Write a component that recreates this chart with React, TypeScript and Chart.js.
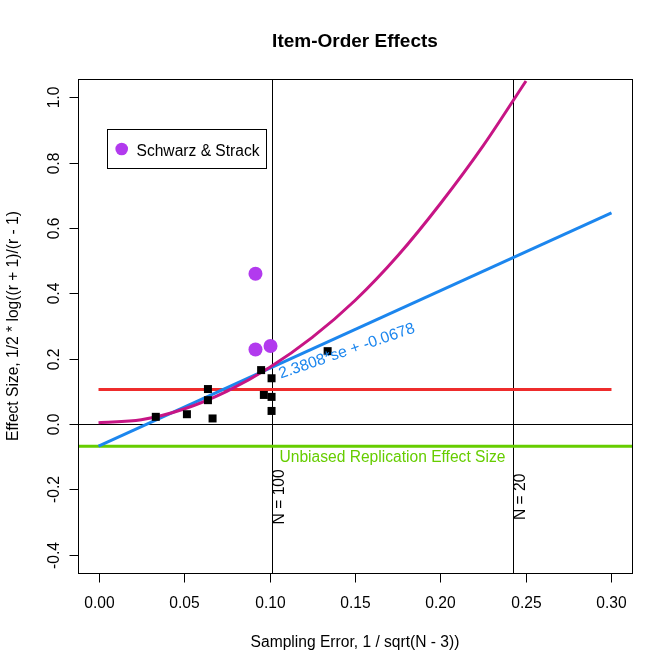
import React, { useEffect, useRef } from "react";
import { Chart, registerables } from "chart.js";

Chart.register(...registerables);

// ---- axis ranges & ticks ----
const X_MIN = -0.012;
const X_MAX = 0.312;
const Y_MIN = -0.456;
const Y_MAX = 1.056;
const xTicks = [0, 0.05, 0.1, 0.15, 0.2, 0.25, 0.3];
const xTickLabels = ["0.00", "0.05", "0.10", "0.15", "0.20", "0.25", "0.30"];
const yTicks = [-0.4, -0.2, 0, 0.2, 0.4, 0.6, 0.8, 1.0];
const yTickLabels = ["-0.4", "-0.2", "0.0", "0.2", "0.4", "0.6", "0.8", "1.0"];

// ---- replication studies (black squares) ----
const studySe = [0.0335, 0.0517, 0.064, 0.064, 0.0667, 0.0951, 0.0967, 0.1012, 0.1012, 0.1012, 0.134];
const studyEs = [0.022, 0.030, 0.107, 0.073, 0.017, 0.165, 0.089, 0.140, 0.083, 0.040, 0.223];

// ---- original studies (Schwarz & Strack) ----
const origSe = [0.0918, 0.0918, 0.1006];
const origEs = [0.460, 0.228, 0.239];

// ---- curved (magenta) fit ----
const curveSe = [0, 0.025, 0.05, 0.075, 0.1, 0.125, 0.15, 0.175, 0.2, 0.225, 0.25];
const curveEs = [0.004, 0.013, 0.046, 0.100, 0.173, 0.265, 0.378, 0.515, 0.675, 0.852, 1.050];

// ---- linear (blue) fit ----
const fitSe = [0, 0.3];
const fitEs = [-0.0678, 0.6464];
const fitLabel = "2.3808*se + -0.0678";
const fitLabelSe = 0.1015;
const fitLabelEs = 0.1739;
const fitLabelAngle = -19; // degrees

// ---- red horizontal line ----
const redSe = [0, 0.3];
const redEs = [0.106, 0.106];

// ---- reference lines ----
const unbiasedEs = -0.0678;
const zeroEs = 0;
const nLineSe = [0.1015, 0.2425];
const nLineLabels = ["N = 100", "N = 20"];
const nLabelEs = -0.223;

const FONT = '"Liberation Sans", Arial, Helvetica, sans-serif';
const TXT = `15.6px ${FONT}`;

const pts = (xs: number[], ys: number[]) => xs.map((x, i) => ({ x, y: ys[i] }));

const refLines = {
  id: "refLines",
  beforeDatasetsDraw(chart: any) {
    const ctx: CanvasRenderingContext2D = chart.ctx;
    const xs = chart.scales.x;
    const ys = chart.scales.y;
    const ca = chart.chartArea;
    ctx.save();
    ctx.strokeStyle = "#000";
    ctx.lineWidth = 1;
    const py = Math.round(ys.getPixelForValue(zeroEs)) + 0.5;
    ctx.beginPath();
    ctx.moveTo(ca.left, py);
    ctx.lineTo(ca.right, py);
    ctx.stroke();
    nLineSe.forEach((se) => {
      const px = Math.round(xs.getPixelForValue(se)) + 0.5;
      ctx.beginPath();
      ctx.moveTo(px, ca.top);
      ctx.lineTo(px, ca.bottom);
      ctx.stroke();
    });
    ctx.restore();
  },
};

const overlay = {
  id: "overlay",
  afterDraw(chart: any) {
    const ctx: CanvasRenderingContext2D = chart.ctx;
    const xs = chart.scales.x;
    const ys = chart.scales.y;
    const ca = chart.chartArea;
    const L = Math.round(ca.left), R = Math.round(ca.right), T = Math.round(ca.top), B = Math.round(ca.bottom);
    ctx.save();
    ctx.strokeStyle = "#000";
    ctx.lineWidth = 1;
    // frame
    ctx.strokeRect(L + 0.5, T + 0.5, R - L, B - T);
    // x ticks
    ctx.fillStyle = "#000";
    ctx.font = TXT;
    ctx.textAlign = "center";
    ctx.textBaseline = "alphabetic";
    xTicks.forEach((v, i) => {
      const px = Math.round(xs.getPixelForValue(v)) + 0.5;
      ctx.beginPath();
      ctx.moveTo(px, B + 0.5);
      ctx.lineTo(px, B + 9.5);
      ctx.stroke();
      ctx.fillText(xTickLabels[i], px, 608);
    });
    // y ticks
    yTicks.forEach((v, i) => {
      const py = Math.round(ys.getPixelForValue(v)) + 0.5;
      ctx.beginPath();
      ctx.moveTo(L + 0.5, py);
      ctx.lineTo(L - 8.5, py);
      ctx.stroke();
      ctx.save();
      ctx.translate(58.5, py);
      ctx.rotate(-Math.PI / 2);
      ctx.fillText(yTickLabels[i], 0, 0);
      ctx.restore();
    });
    // title
    ctx.font = `bold 19px ${FONT}`;
    ctx.fillText("Item-Order Effects", (L + R) / 2, 46.5);
    // axis titles
    ctx.font = TXT;
    ctx.fillText("Sampling Error, 1 / sqrt(N - 3))", (L + R) / 2, 647);
    ctx.save();
    ctx.translate(17.5, (T + B) / 2);
    ctx.rotate(-Math.PI / 2);
    ctx.fillText("Effect Size, 1/2 * log((r + 1)/(r - 1)", 0, 0);
    ctx.restore();

    // N labels
    nLineSe.forEach((se, i) => {
      const px = xs.getPixelForValue(se);
      const py = ys.getPixelForValue(nLabelEs);
      ctx.save();
      ctx.translate(px + 12.3, py);
      ctx.rotate(-Math.PI / 2);
      ctx.fillStyle = "#000";
      ctx.textAlign = "center";
      ctx.fillText(nLineLabels[i], 0, 0);
      ctx.restore();
    });

    // unbiased label
    ctx.fillStyle = "#66CD00";
    ctx.textAlign = "left";
    ctx.fillText(
      "Unbiased Replication Effect Size",
      xs.getPixelForValue(nLineSe[0]) + 7.4,
      ys.getPixelForValue(unbiasedEs) + 15.4
    );

    // fit label
    ctx.save();
    ctx.translate(xs.getPixelForValue(fitLabelSe) + 8.8, ys.getPixelForValue(fitLabelEs) + 11.4);
    ctx.rotate((fitLabelAngle * Math.PI) / 180);
    ctx.fillStyle = "#1C86EE";
    ctx.textAlign = "left";
    ctx.font = `15.8px ${FONT}`;
    ctx.fillText(fitLabel, 0, 0);
    ctx.restore();

    // legend
    ctx.font = TXT;
    ctx.strokeStyle = "#000";
    ctx.strokeRect(107.5, 129.5, 159, 39);
    ctx.fillStyle = "#B23AEE";
    ctx.beginPath();
    ctx.arc(121.7, 149, 6.3, 0, Math.PI * 2);
    ctx.fill();
    ctx.fillStyle = "#000";
    ctx.textAlign = "left";
    ctx.fillText("Schwarz & Strack", 136.5, 156);
    ctx.restore();
  },
};

export default function App() {
  const ref = useRef<HTMLCanvasElement>(null);
  useEffect(() => {
    const line = (data: any[], color: string, width: number, extra: any = {}) => ({
      type: "scatter",
      data,
      showLine: true,
      borderColor: color,
      backgroundColor: color,
      borderWidth: width,
      pointRadius: 0,
      fill: false,
      tension: 0,
      clip: 0,
      ...extra,
    });
    const chart = new Chart(ref.current as HTMLCanvasElement, {
      type: "scatter",
      data: {
        datasets: [
          {
            data: pts(origSe, origEs),
            pointStyle: "circle",
            pointRadius: 7,
            backgroundColor: "#B23AEE",
            borderWidth: 0,
          },
          {
            data: pts(studySe, studyEs),
            pointStyle: "rect",
            pointRadius: 5.66,
            backgroundColor: "#000",
            borderWidth: 0,
          },
          line(pts(curveSe, curveEs), "#C71585", 3, { cubicInterpolationMode: "monotone" }),
          line(pts(fitSe, fitEs), "#1C86EE", 3),
          line(pts(redSe, redEs), "#EE2C2C", 3),
          line(pts([X_MIN, X_MAX], [unbiasedEs, unbiasedEs]), "#66CD00", 3),
        ] as any,
      },
      options: {
        animation: false,
        responsive: false,
        devicePixelRatio: 1,
        events: [],
        layout: { padding: { left: 78, right: 40, top: 79, bottom: 98 } },
        plugins: { legend: { display: false }, tooltip: { enabled: false }, title: { display: false } },
        scales: {
          x: { type: "linear", min: X_MIN, max: X_MAX, display: false },
          y: { type: "linear", min: Y_MIN, max: Y_MAX, display: false },
        },
      },
      plugins: [refLines, overlay],
    } as any);
    return () => chart.destroy();
  }, []);
  return (
    <div style={{ position: "fixed", left: 0, top: 0, width: 672, height: 671, background: "#fff" }}>
      <canvas ref={ref} width={672} height={671} style={{ display: "block", width: 672, height: 671 }} />
    </div>
  );
}
